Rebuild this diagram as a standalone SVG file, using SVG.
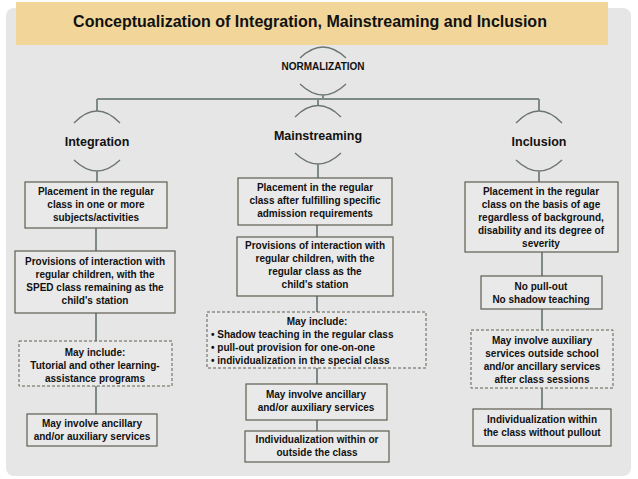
<svg xmlns="http://www.w3.org/2000/svg" width="638" height="479" viewBox="0 0 638 479">
<style>
.bx{fill:#e9e9e9;stroke:#5e5e50;stroke-width:1.2}
.ds{fill:#e9e9e9;stroke:#5e5e50;stroke-width:1;stroke-dasharray:3,2}
.t{font-family:"Liberation Sans",Arial,sans-serif;font-weight:bold;font-size:10px;fill:#111;text-anchor:middle}
.h{font-family:"Liberation Sans",Arial,sans-serif;font-weight:bold;font-size:12.5px;fill:#111;text-anchor:middle}
.c{fill:none;stroke:#7d8a88;stroke-width:2}
.a{fill:none;stroke:#6b7574;stroke-width:1.3}
</style>
<rect x="0" y="0" width="638" height="479" fill="#ffffff"/>
<rect x="6" y="8" width="625" height="468" rx="8" fill="#e6e6e6"/>
<rect x="16" y="2" width="592" height="43" fill="#f2d699"/>
<text x="310" y="27" font-family="Liberation Sans,Arial,sans-serif" font-weight="bold" font-size="16" fill="#111" text-anchor="middle">Conceptualization of Integration, Mainstreaming and Inclusion</text>
<g id="connectors">
<path class="a" d="M300,58 Q323,36 346,58"/>
<path class="a" d="M300,84 Q323,106 346,84"/>
<path class="c" d="M323,95 V99 M97,99 H539 M97,99 V111 M539,99 V111 M318,99 V106"/>
<path class="a" d="M74,123 Q97,99 120,123"/>
<path class="a" d="M295,117 Q318,94 341,117"/>
<path class="a" d="M516,123 Q539,99 562,123"/>
<path class="a" d="M74,160 Q97,182 120,160"/>
<path class="a" d="M295,153 Q318,175 341,153"/>
<path class="a" d="M516,160 Q539,182 562,160"/>
<path class="c" d="M97,171 V182 M318,164 V178 M539,171 V182"/>
<path class="c" d="M96,228 V251 M96,313 V341 M96,386 V414"/>
<path class="c" d="M317,225 V237 M317,296 V312 M317,368 V384 M317,420 V431"/>
<path class="c" d="M542,252 V276 M542,309 V330 M542,388 V409"/>
</g>
<g id="normalization"><text x="323" y="70" class="t" font-size="11">NORMALIZATION</text></g>
<g id="integration"><text x="97" y="146" class="h">Integration</text></g>
<g id="mainstreaming"><text x="318" y="140" class="h">Mainstreaming</text></g>
<g id="inclusion"><text x="539" y="146" class="h">Inclusion</text></g>
<g id="i1"><rect class="bx" x="25" y="182" width="142" height="46"/><text class="t" y="195"><tspan x="96">Placement in the regular</tspan><tspan x="96" dy="13">class in one or more</tspan><tspan x="96" dy="13">subjects/activities</tspan></text></g>
<g id="i2"><rect class="bx" x="15" y="251" width="160" height="62"/><text class="t" y="265"><tspan x="95">Provisions of interaction with</tspan><tspan x="95" dy="13">regular children, with the</tspan><tspan x="95" dy="13">SPED class remaining as the</tspan><tspan x="95" dy="13">child's station</tspan></text></g>
<g id="i3"><rect class="ds" x="19" y="341" width="153" height="45"/><text class="t" y="356"><tspan x="95">May include:</tspan><tspan x="95" dy="13">Tutorial and other learning-</tspan><tspan x="95" dy="13">assistance programs</tspan></text></g>
<g id="i4"><rect class="bx" x="27" y="414" width="130" height="32"/><text class="t" y="427"><tspan x="92">May involve ancillary</tspan><tspan x="92" dy="13">and/or auxiliary services</tspan></text></g>
<g id="m1"><rect class="bx" x="238" y="178" width="154" height="47"/><text class="t" y="191"><tspan x="315">Placement in the regular</tspan><tspan x="315" dy="13">class after fulfilling specific</tspan><tspan x="315" dy="13">admission requirements</tspan></text></g>
<g id="m2"><rect class="bx" x="237" y="237" width="156" height="59"/><text class="t" y="249"><tspan x="315">Provisions of interaction with</tspan><tspan x="315" dy="13">regular children, with the</tspan><tspan x="315" dy="13">regular class as the</tspan><tspan x="315" dy="13">child's station</tspan></text></g>
<g id="m3"><rect class="ds" x="207" y="312" width="219" height="56"/><text class="t" y="325"><tspan x="317">May include:</tspan></text><text class="t" style="text-anchor:start" y="338"><tspan x="211">•  Shadow teaching in the regular class</tspan><tspan x="211" dy="13">•  pull-out provision for one-on-one</tspan><tspan x="211" dy="13">•  individualization in the special class</tspan></text></g>
<g id="m4"><rect class="bx" x="246" y="384" width="141" height="36"/><text class="t" y="398"><tspan x="316">May involve ancillary</tspan><tspan x="316" dy="13">and/or auxiliary services</tspan></text></g>
<g id="m5"><rect class="bx" x="245" y="431" width="144" height="31"/><text class="t" y="443"><tspan x="317">Individualization within or</tspan><tspan x="317" dy="13">outside the class</tspan></text></g>
<g id="c1"><rect class="bx" x="465" y="182" width="153" height="70"/><text class="t" y="195"><tspan x="541">Placement in the regular</tspan><tspan x="541" dy="13">class on the basis of age</tspan><tspan x="541" dy="13">regardless of background,</tspan><tspan x="541" dy="13">disability and its degree of</tspan><tspan x="541" dy="13">severity</tspan></text></g>
<g id="c2"><rect class="bx" x="481" y="276" width="121" height="33"/><text class="t" y="290"><tspan x="541">No pull-out</tspan><tspan x="541" dy="13">No shadow teaching</tspan></text></g>
<g id="c3"><rect class="ds" x="471" y="330" width="142" height="58"/><text class="t" y="344"><tspan x="542">May involve auxiliary</tspan><tspan x="542" dy="13">services outside school</tspan><tspan x="542" dy="13">and/or ancillary services</tspan><tspan x="542" dy="13">after class sessions</tspan></text></g>
<g id="c4"><rect class="bx" x="473" y="409" width="138" height="37"/><text class="t" y="423"><tspan x="542">Individualization within</tspan><tspan x="542" dy="13">the class without pullout</tspan></text></g>
</svg>
